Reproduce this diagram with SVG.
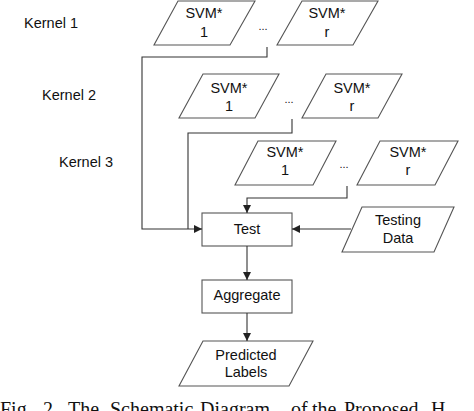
<svg xmlns="http://www.w3.org/2000/svg" width="474" height="411" viewBox="0 0 474 411">
<defs>
<marker id="ah" viewBox="0 0 10 10" refX="10" refY="5" markerWidth="8" markerHeight="8" markerUnits="userSpaceOnUse" orient="auto">
<path d="M0,0 L10,5 L0,10 Z" fill="#222"/>
</marker>
<style>
.shape{fill:#fff;stroke:#555;stroke-width:1.1}
.t{font-family:"Liberation Sans",Arial,sans-serif;font-size:14.5px;fill:#111;text-anchor:middle}
.k{font-family:"Liberation Sans",Arial,sans-serif;font-size:14.5px;fill:#111}
.c{fill:none;stroke:#333;stroke-width:1.1}
.cap{font-family:"Liberation Serif","Times New Roman",serif;font-size:20px;fill:#111}
</style>
</defs>
<rect width="474" height="411" fill="#fff"/>

<g id="labels">
<text class="k" x="24" y="28">Kernel 1</text>
<text class="k" x="42" y="100">Kernel 2</text>
<text class="k" x="59" y="167">Kernel 3</text>
</g>

<g id="k1-svm1">
<polygon class="shape" points="178,1 255,1 230,45 154,45"/>
<text class="t" x="204" y="18">SVM*</text>
<text class="t" x="204" y="37">1</text>
</g>
<g id="k1-dots"><text class="t" x="263" y="30" style="font-size:11px">...</text></g>
<g id="k1-svmr">
<polygon class="shape" points="302,1 378,1 353,45 277,45"/>
<text class="t" x="327" y="18">SVM*</text>
<text class="t" x="327" y="37">r</text>
</g>

<g id="k2-svm1">
<polygon class="shape" points="203,74 279,74 255,118 179,118"/>
<text class="t" x="229" y="93">SVM*</text>
<text class="t" x="229" y="111">1</text>
</g>
<g id="k2-dots"><text class="t" x="289" y="103" style="font-size:11px">...</text></g>
<g id="k2-svmr">
<polygon class="shape" points="326,74 402,74 378,118 302,118"/>
<text class="t" x="352" y="93">SVM*</text>
<text class="t" x="352" y="111">r</text>
</g>

<g id="k3-svm1">
<polygon class="shape" points="258,141 336,141 313,185 235,185"/>
<text class="t" x="285" y="157">SVM*</text>
<text class="t" x="285" y="175">1</text>
</g>
<g id="k3-dots"><text class="t" x="344" y="168" style="font-size:11px">...</text></g>
<g id="k3-svmr">
<polygon class="shape" points="380,141 458,141 435,185 357,185"/>
<text class="t" x="408" y="157">SVM*</text>
<text class="t" x="408" y="175">r</text>
</g>

<g id="test">
<rect class="shape" x="202" y="213" width="90" height="33"/>
<text class="t" x="247" y="234">Test</text>
</g>
<g id="testing-data">
<polygon class="shape" points="362,207 454,207 434,252 342,252"/>
<text class="t" x="398" y="225">Testing</text>
<text class="t" x="398" y="243">Data</text>
</g>
<g id="aggregate">
<rect class="shape" x="202" y="280" width="90" height="33"/>
<text class="t" x="247" y="300">Aggregate</text>
</g>
<g id="predicted">
<polygon class="shape" points="203,341 313,341 289,386 179,386"/>
<text class="t" x="246" y="360">Predicted</text>
<text class="t" x="246" y="377">Labels</text>
</g>

<g id="connectors">
<polyline class="c" points="267,47 267,57 142,57 142,229 202,229" marker-end="url(#ah)"/>
<polyline class="c" points="292,119 292,133 188,133 188,229"/>
<polyline class="c" points="347,186 347,198 247,198 247,213" marker-end="url(#ah)"/>
<line class="c" x1="351" y1="229" x2="292" y2="229" marker-end="url(#ah)"/>
<line class="c" x1="247" y1="246" x2="247" y2="280" marker-end="url(#ah)"/>
<line class="c" x1="247" y1="313" x2="247" y2="341" marker-end="url(#ah)"/>
</g>

<g id="caption">
<text class="cap" y="416"><tspan x="0">Fig.</tspan><tspan x="43">2.</tspan><tspan x="68">The</tspan><tspan x="110">Schematic</tspan><tspan x="200">Diagram</tspan><tspan x="291">of</tspan><tspan x="312">the</tspan><tspan x="344">Proposed</tspan><tspan x="431">H</tspan></text>
</g>
</svg>
